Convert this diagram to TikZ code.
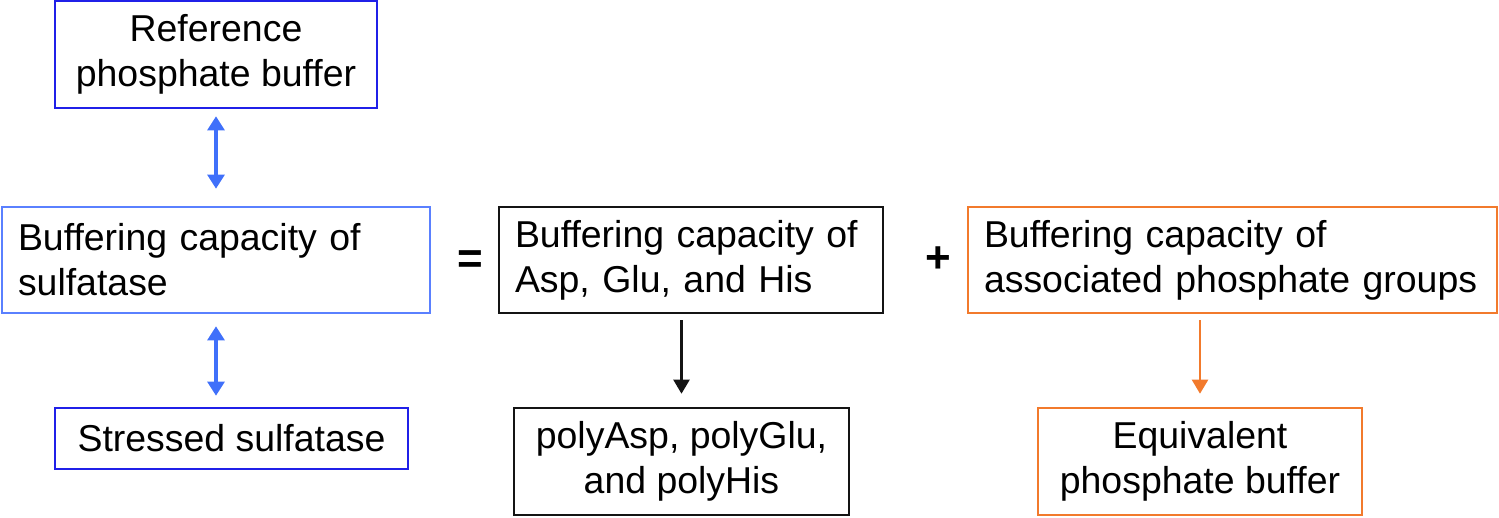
\documentclass[tikz,border=0pt]{standalone}
\usepackage{fontspec}
\setmainfont{Liberation Sans}
\usepackage{xcolor}
\usepackage{tikz}
\usetikzlibrary{arrows.meta}
\definecolor{figdblue}{RGB}{32,32,232}
\definecolor{figlblue}{RGB}{90,128,255}
\definecolor{figarrow}{RGB}{64,112,250}
\definecolor{figorange}{RGB}{242,122,44}
\definecolor{figline}{RGB}{20,20,20}
\tikzset{
  bx/.style  ={draw, line width=1.4pt, font=\fontsize{21.3}{25.6}\selectfont, inner xsep=0.32cm, inner ysep=0.1cm, align=center},
  bxl/.style ={bx, align=left},
  sym/.style ={font=\fontsize{25}{30}\selectfont\bfseries, inner sep=1pt},
  dar/.style ={draw=figarrow, line width=2.2pt, {Triangle[length=8pt,width=9.5pt]}-{Triangle[length=8pt,width=9.5pt]}},
  ar/.style  ={line width=1.6pt, -{Triangle[length=8pt,width=9pt]}},
}
\begin{document}
\begin{tikzpicture}
  \useasboundingbox (0,0) rectangle (29.98,10.36);
  \node[bx,draw=figdblue,minimum width=6.44cm,minimum height=2.14cm] (ref) at (4.32,9.27) {Reference\\phosphate buffer};
  \node[bxl,draw=figlblue,text width=7.92cm,minimum height=2.12cm] (sulf) at (4.32,5.16) {Buffering capacity of\\sulfatase};
  \node[bx,draw=figdblue,minimum width=7.06cm,minimum height=1.22cm] (stress) at (4.63,1.59) {Stressed sulfatase};
  \node[sym] (eq) at (9.40,5.12) {=};
  \node[bxl,draw=figline,text width=7.04cm,minimum height=2.12cm] (asp) at (13.82,5.16) {Buffering capacity of\\Asp, Glu, and His};
  \node[bx,draw=figline,minimum width=6.70cm,minimum height=2.14cm] (poly) at (13.63,1.13) {polyAsp, polyGlu,\\and polyHis};
  \node[sym] (plus) at (18.76,5.16) {+};
  \node[bxl,draw=figorange,text width=9.94cm,minimum height=2.12cm] (phos) at (24.65,5.16) {Buffering capacity of\\associated phosphate groups};
  \node[bx,draw=figorange,minimum width=6.48cm,minimum height=2.14cm] (equiv) at (24.0,1.13) {Equivalent\\phosphate buffer};
  % connectors
  \draw[dar,shorten <=0.14cm,shorten >=0.34cm] (ref.south) -- (sulf.north);
  \draw[dar,shorten <=0.24cm,shorten >=0.22cm] (sulf.south) -- (sulf.south |- stress.north);
  \draw[ar,draw=figline,shorten <=0.12cm,shorten >=0.26cm] (poly.north |- asp.south) -- (poly.north);
  \draw[ar,draw=figorange,shorten <=0.12cm,shorten >=0.26cm] (equiv.north |- phos.south) -- (equiv.north);
\end{tikzpicture}
\end{document}
